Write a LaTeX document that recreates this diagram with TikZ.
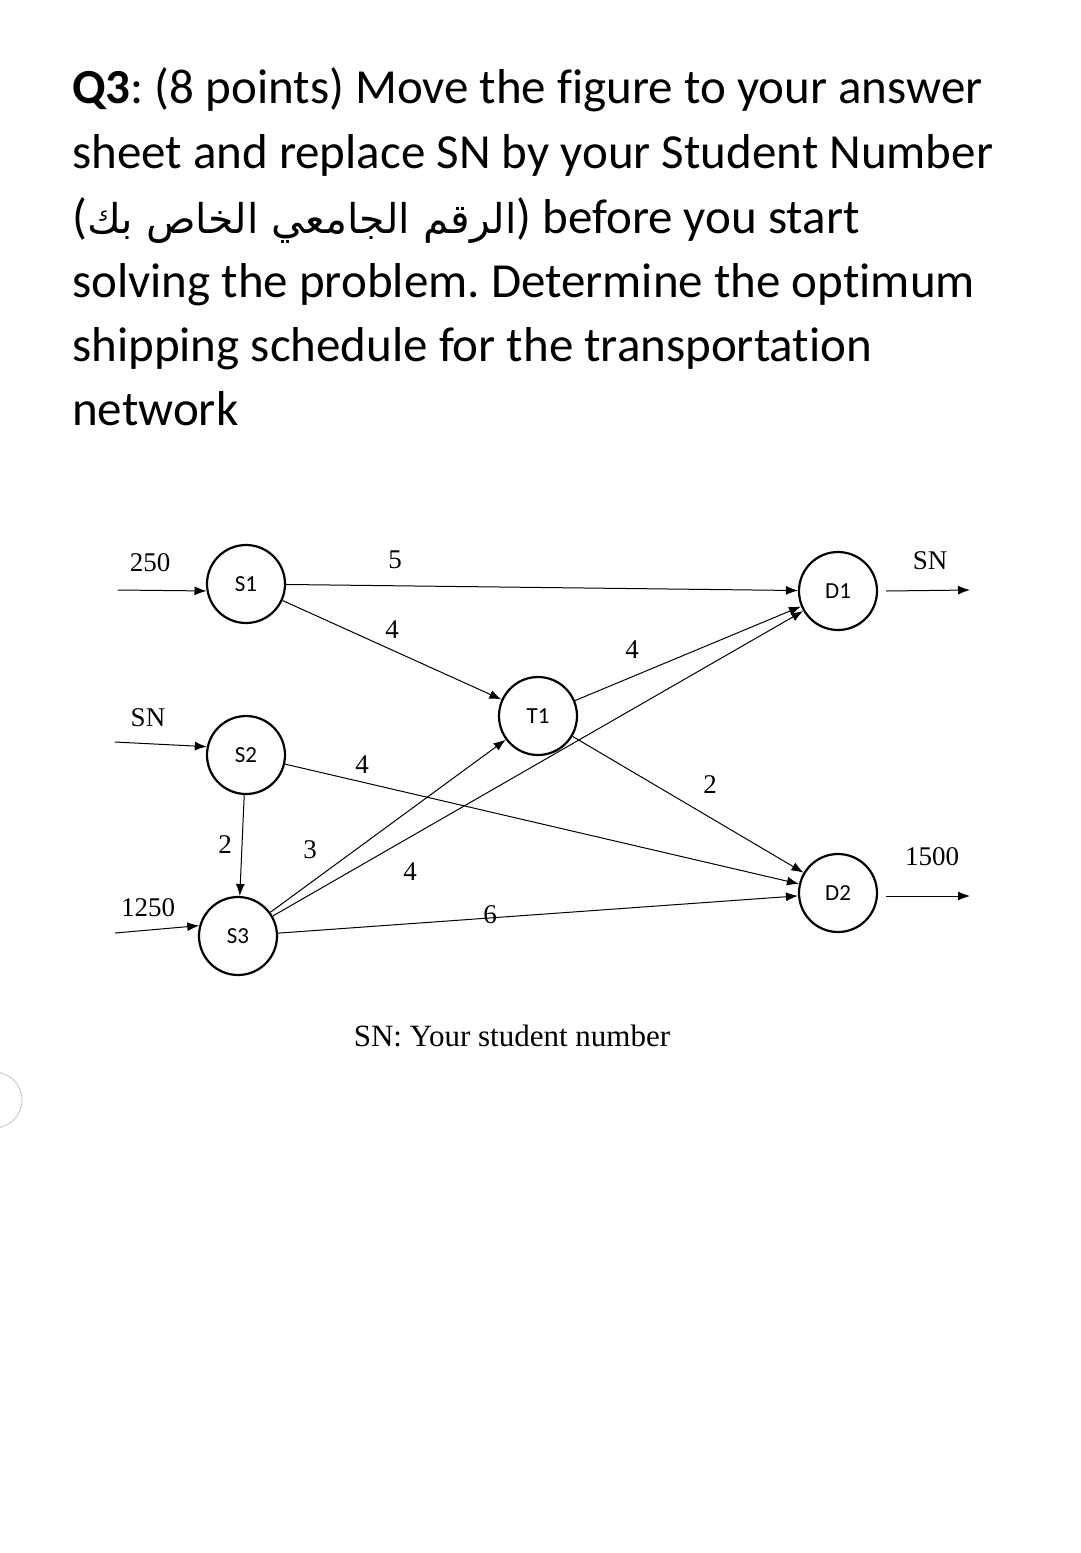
\documentclass[tikz,border=0pt]{standalone}
\usepackage{fontspec}
\setmainfont[Ligatures=NoCommon]{Carlito}
\newfontfamily\arabicfont[Script=Arabic]{DejaVu Sans}
\newfontfamily\timesf{Liberation Serif}
\newfontfamily\sansf{Carlito}
\TeXXeTstate=1
\usetikzlibrary{arrows.meta}
\begin{document}
\frenchspacing
\begin{tikzpicture}[x=1pt,y=-1pt,
  body/.style={anchor=base west,inner sep=0,font=\fontsize{49}{52}\selectfont},
  nd/.style={circle,draw,line width=2.2pt,minimum size=78,inner sep=0,font=\sansf\fontsize{23}{26}\selectfont},
  lab/.style={font=\timesf\fontsize{27}{30}\selectfont,inner sep=1},
  arr/.style={-{Latex[length=12,width=9]},line width=1pt}]
\useasboundingbox (0,0) rectangle (1080,1553);
\node[body] (l1) at (72,103) {\textbf{Q3}: (8 points) Move the figure to your answer};
\node[body] (l2) at (72,168) {sheet and replace SN by your Student Number};
\node[body] (l3) at (72,233) {({\arabicfont\fontsize{41}{44}\selectfont\beginR الرقم الجامعي الخاص بك\endR}) before you start};
\node[body] (l4) at (72,297) {solving the problem. Determine the optimum};
\node[body] (l5) at (72,361) {shipping schedule for the transportation};
\node[body] (l6) at (72,425) {network};
\draw[gray!40,line width=1pt,fill=white] (-6,1100) circle (28);
\node[nd] (S1) at (246,584) {S1};
\node[nd] (S2) at (246,755) {S2};
\node[nd] (S3) at (238,936) {S3};
\node[nd] (T1) at (538,716) {T1};
\node[nd] (D1) at (838,591) {D1};
\node[nd] (D2) at (838,893) {D2};
\coordinate (i1) at (118,590); \coordinate (i2) at (115,742); \coordinate (i3) at (115,933);
\coordinate (o1) at (970,590); \coordinate (o2) at (970,896);
\draw[arr] (i1) -- (S1.190);
\draw[arr] (i2) -- (S2.168);
\draw[arr] (i3) -- (S3.165);
\draw[arr] (D1.0) ++(8,0) coordinate (d1o) (d1o) -- (o1);
\draw[arr] (D2.0) ++(8,3) coordinate (d2o) (d2o) -- (o2);
\draw[arr] (S1) -- (D1);
\draw[arr] (S1) -- (T1);
\draw[arr] (S2) -- (D2);
\draw[arr] (S2) -- (S3);
\draw[arr] (S3) -- (T1);
\draw[arr] (S3) -- (D1);
\draw[arr] (S3) -- (D2);
\draw[arr] (T1) -- (D1);
\draw[arr] (T1) -- (D2);
\node[lab] (a) at (150,563) {250};
\node[lab] (b) at (148,718) {SN};
\node[lab] (c) at (148,908) {1250};
\node[lab] (d) at (930,561) {SN};
\node[lab] (e) at (932,857) {1500};
\node[lab] (f) at (395,560) {5};
\node[lab] (g) at (392,630) {4};
\node[lab] (h) at (362,765) {4};
\node[lab] (i) at (225,845) {2};
\node[lab] (j) at (310,850) {3};
\node[lab] (k) at (410,872) {4};
\node[lab] (m) at (490,915) {6};
\node[lab] (n) at (632,650) {4};
\node[lab] (p) at (710,785) {2};
\node[lab,font=\timesf\fontsize{31}{34}\selectfont] (cap) at (512,1036) {SN: Your student number};
\end{tikzpicture}
\end{document}
